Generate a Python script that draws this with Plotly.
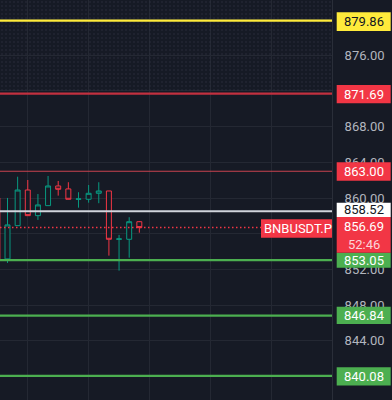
import plotly.graph_objects as go

# ---------------- data ----------------
bar_index = [-1, 0, 1, 2, 3, 4, 5, 6, 7, 8, 9, 10, 11, 12, 13]
open_ = [860.01, 853.18, 856.91, 860.90, 858.03, 859.15, 861.35, 861.02, 859.86, 859.86, 860.53, 860.79, 855.38, 855.38, 857.35]
high = [860.01, 860.01, 862.39, 862.02, 860.45, 862.47, 861.91, 861.77, 860.65, 861.46, 861.77, 860.79, 855.87, 857.85, 857.43]
low = [853.07, 852.73, 856.91, 858.03, 857.55, 859.15, 860.27, 859.86, 858.92, 859.48, 859.42, 853.55, 851.87, 853.32, 856.12]
close = [853.07, 856.99, 860.90, 858.03, 859.23, 861.35, 860.98, 859.86, 859.90, 860.53, 860.79, 855.38, 855.42, 857.35, 856.69]

level_prices = [879.86, 871.69, 863.00, 858.52, 853.05, 846.84, 840.08]
level_labels = ["879.86", "871.69", "863.00", "858.52", "853.05", "846.84", "840.08"]

last_price = 856.69
last_label = "856.69"
countdown = "52:46"
symbol = "BNBUSDT.P"

y_tickvals = [840, 844, 848, 852, 856, 860, 864, 868, 872, 876, 880]
y_ticktext = ["840.00", "844.00", "848.00", "852.00", "856.00", "860.00",
              "864.00", "868.00", "872.00", "876.00", "880.00"]
x_gridvals = [2, 8, 14, 20, 26]

# ---------------- style ----------------
W, H = 392, 400
PLOT_W = 332
BG = "#161a25"
GRID = "#242833"
UP = "#089981"
DOWN = "#f23645"
FONT = "Roboto"
X_RANGE = [-0.74, 32.0]
Y_RANGE = [837.38, 882.18]

line_colors = ["#ffeb3b", "#c2303f", "#c8434f", "#d1d4dc", "#4caf50", "#4caf50", "#4caf50"]
line_widths = [2.2, 2.2, 1, 2.2, 2.2, 2.2, 2.2]
label_bg = ["#ffeb3b", "#f23645", "#f23645", "#ffffff", "#4caf50", "#4caf50", "#4caf50"]
label_fg = ["#131722", "#ffffff", "#ffffff", "#131722", "#ffffff", "#ffffff", "#ffffff"]
label_top = [8.4, 8.7, 9.0, 8.6, 7.4, 8.9, 8.7]
label_bot = [-10.3, -9.6, -9.4, -5.7, -7.6, -8.4, -9.7]

LBL_X0 = 336.7 / W
LBL_X1 = 390.7 / W
LBL_XC = 364.0 / W

fig = go.Figure()

# dotted zone above the top resistance line
fig.add_trace(go.Scatter(
    x=[X_RANGE[0], X_RANGE[1], X_RANGE[1], X_RANGE[0], X_RANGE[0]],
    y=[level_prices[1], level_prices[1], Y_RANGE[1], Y_RANGE[1], level_prices[1]],
    mode="lines", line=dict(width=0), fill="toself",
    fillcolor="rgba(0,0,0,0)",
    fillpattern=dict(shape=".", size=4, solidity=0.2, fgcolor="#2b303d", bgcolor="rgba(0,0,0,0)"),
    hoverinfo="skip", showlegend=False,
))

fig.add_trace(go.Candlestick(
    x=bar_index, open=open_, high=high, low=low, close=close,
    increasing=dict(line=dict(color=UP, width=1), fillcolor=BG),
    decreasing=dict(line=dict(color=DOWN, width=1), fillcolor=BG),
    whiskerwidth=0, showlegend=False, hoverinfo="skip",
))

shapes = []
annotations = []

# horizontal levels and their price labels
for p, lab, lc, lw, bg, fg, t, b in zip(level_prices, level_labels, line_colors, line_widths,
                                        label_bg, label_fg, label_top, label_bot):
    shapes.append(dict(type="line", xref="paper", yref="y", x0=0, x1=PLOT_W / W, y0=p, y1=p,
                       line=dict(color=lc, width=lw), layer="above"))
    shapes.append(dict(type="rect", xref="paper", yref="y", ysizemode="pixel", yanchor=p,
                       x0=LBL_X0, x1=LBL_X1, y0=b, y1=t, fillcolor=bg, line=dict(width=0), layer="above"))
    annotations.append(dict(xref="paper", yref="y", x=LBL_XC, y=p, yshift=(t + b) / 2,
                            xanchor="center", yanchor="middle",
                            text=lab, showarrow=False, font=dict(family=FONT, size=13, color=fg)))

# current price dotted line
shapes.append(dict(type="line", xref="paper", yref="y", x0=0, x1=PLOT_W / W, y0=last_price, y1=last_price,
                   line=dict(color=DOWN, width=1.5, dash="1.5px,2.5px"), layer="above"))
# symbol tag
shapes.append(dict(type="rect", xref="paper", yref="y", ysizemode="pixel", yanchor=last_price,
                   x0=261 / W, x1=PLOT_W / W, y0=-10.1, y1=8.3, fillcolor=DOWN, line=dict(width=0), layer="above"))
annotations.append(dict(xref="paper", yref="y", x=297.5 / W, y=last_price, yshift=-0.9,
                        xanchor="center", yanchor="middle",
                        text=symbol, showarrow=False, font=dict(family=FONT, size=13, color="#ffffff")))
# last price + countdown label
shapes.append(dict(type="rect", xref="paper", yref="y", ysizemode="pixel", yanchor=last_price,
                   x0=LBL_X0, x1=LBL_X1, y0=-25.1, y1=10.6, fillcolor=DOWN, line=dict(width=0), layer="above"))
annotations.append(dict(xref="paper", yref="y", x=LBL_XC, y=last_price, yshift=1.2,
                        xanchor="center", yanchor="middle",
                        text=last_label, showarrow=False, font=dict(family=FONT, size=13, color="#ffffff")))
annotations.append(dict(xref="paper", yref="y", x=LBL_XC, y=last_price, yshift=-16.5,
                        xanchor="center", yanchor="middle",
                        text=countdown, showarrow=False, font=dict(family=FONT, size=13, color="#fbd5d9")))

fig.update_layout(
    width=W, height=H,
    margin=dict(l=0, r=0, t=0, b=0, pad=0),
    paper_bgcolor=BG, plot_bgcolor=BG,
    shapes=shapes, annotations=annotations,
    showlegend=False,
    xaxis=dict(domain=[0, PLOT_W / W], range=X_RANGE, tickvals=x_gridvals, showticklabels=False,
               showgrid=True, gridcolor=GRID, gridwidth=1, zeroline=False, ticks="",
               rangeslider=dict(visible=False), fixedrange=True),
    yaxis=dict(side="right", range=Y_RANGE, tickvals=y_tickvals, ticktext=y_ticktext,
               tickfont=dict(family=FONT, size=13, color="#b2b5be"), ticks="",
               ticklabelstandoff=9, showgrid=True, gridcolor=GRID, gridwidth=1, zeroline=False,
               showline=True, linecolor="#2a2e39", linewidth=1, automargin=False, fixedrange=True),
    hovermode=False,
)

fig.write_html("out.html", config={"displayModeBar": False, "staticPlot": True},
               post_script="document.body.style.margin='0';document.body.style.background='" + BG + "';")
